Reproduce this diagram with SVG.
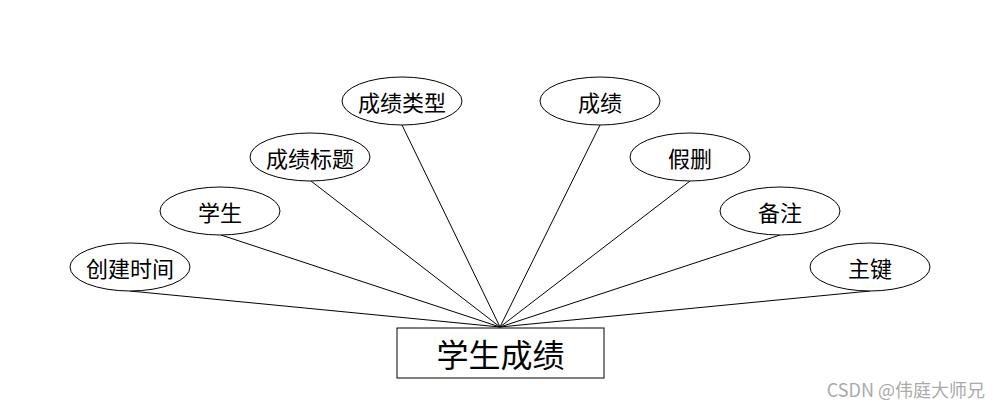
<svg xmlns="http://www.w3.org/2000/svg" width="1000" height="408" viewBox="0 0 1000 408">
<style>
.e{fill:#fff;stroke:#000;stroke-width:1}
.t{font-family:"Noto Sans CJK SC","Liberation Sans",sans-serif;font-size:22px;fill:#000;text-anchor:middle;dominant-baseline:central}
.c line{stroke:#000;stroke-width:1}
</style>
<rect width="1000" height="408" fill="#fff"/>
<g class="c" id="connectors">
<line x1="130" y1="291" x2="500" y2="327"/>
<line x1="221" y1="235" x2="500" y2="327"/>
<line x1="311" y1="181" x2="500" y2="327"/>
<line x1="402" y1="125" x2="500" y2="327"/>
<line x1="600" y1="125" x2="500" y2="327"/>
<line x1="690" y1="181" x2="500" y2="327"/>
<line x1="780" y1="235" x2="500" y2="327"/>
<line x1="870" y1="291" x2="500" y2="327"/>
</g>
<g id="n1"><ellipse class="e" cx="130" cy="267" rx="60" ry="24"/><text class="t" x="130" y="267">创建时间</text></g>
<g id="n2"><ellipse class="e" cx="220" cy="211" rx="60" ry="24"/><text class="t" x="220" y="211">学生</text></g>
<g id="n3"><ellipse class="e" cx="310" cy="157" rx="60" ry="24"/><text class="t" x="310" y="157">成绩标题</text></g>
<g id="n4"><ellipse class="e" cx="402" cy="101" rx="60" ry="24"/><text class="t" x="402" y="101">成绩类型</text></g>
<g id="n5"><ellipse class="e" cx="600" cy="101" rx="60" ry="24"/><text class="t" x="600" y="101">成绩</text></g>
<g id="n6"><ellipse class="e" cx="690" cy="157" rx="60" ry="24"/><text class="t" x="690" y="157">假删</text></g>
<g id="n7"><ellipse class="e" cx="780" cy="211" rx="60" ry="24"/><text class="t" x="780" y="211">备注</text></g>
<g id="n8"><ellipse class="e" cx="870" cy="267" rx="60" ry="24"/><text class="t" x="870" y="267">主键</text></g>
<g id="main"><rect x="397" y="328" width="207" height="50" fill="#fff" stroke="#000"/><text class="t" x="500.5" y="353" style="font-size:32px">学生成绩</text></g>
<text x="985" y="389" text-anchor="end" dominant-baseline="central" style="font-family:'Noto Sans CJK SC','Liberation Sans',sans-serif;font-size:18px;fill:#aaa">CSDN @伟庭大师兄</text>
</svg>
